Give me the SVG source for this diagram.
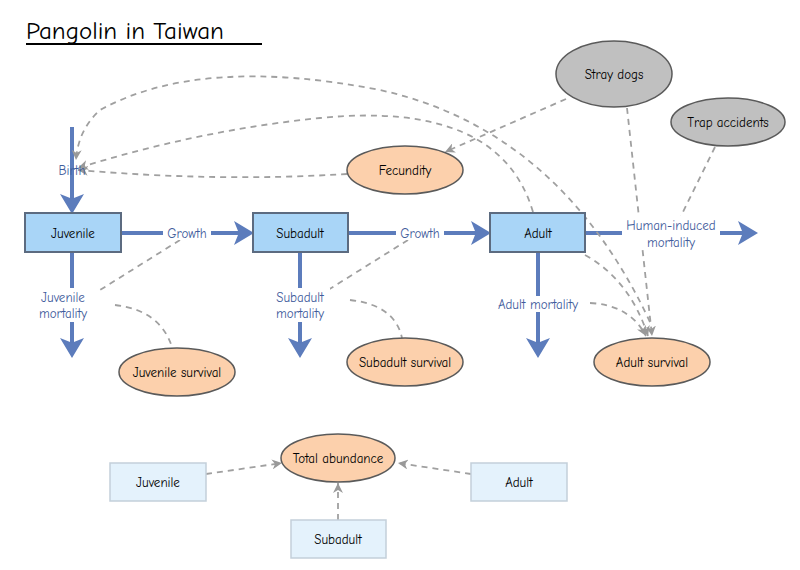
<svg xmlns="http://www.w3.org/2000/svg" width="800" height="570" viewBox="0 0 800 570">
<style>
text{font-family:"Comic Neue","Liberation Sans",sans-serif;font-size:13px;text-anchor:middle;dominant-baseline:central}
.stock{fill:#a9d5f7;stroke:#5c6b80;stroke-width:2}
.ghost{fill:#e4f2fc;stroke:#c3cfda;stroke-width:1.5}
.aux{fill:#fcd0ac;stroke:#5a5a5a;stroke-width:1.5}
.ext{fill:#c0c0c0;stroke:#5a5a5a;stroke-width:1.5}
.flow{stroke:#5c7cbc;stroke-width:4;fill:none;marker-end:url(#fa)}
.flowN{stroke:#5c7cbc;stroke-width:4;fill:none}
.link{stroke:#a0a0a0;stroke-width:1.8;stroke-dasharray:6 5;fill:none}
.la{marker-end:url(#la)}
.fl{fill:#3f5c9c;font-size:13px}
</style>
<defs>
<marker id="fa" markerWidth="6" markerHeight="6" refX="4" refY="3" orient="auto" markerUnits="strokeWidth"><path d="M0,0 L5,3 L0,6 L1.2,3 Z" fill="#5c7cbc"/></marker>
<marker id="la" markerWidth="12" markerHeight="10" refX="10" refY="5" orient="auto" markerUnits="userSpaceOnUse"><path d="M0,0 L10,5 L0,10 L3,5 Z" fill="#999"/></marker>
</defs>
<text x="26" y="30" style="font-size:25px;text-anchor:start;fill:#000">Pangolin in Taiwan</text>
<line x1="26" y1="44" x2="262" y2="44" stroke="#000" stroke-width="2"/>
<g id="connectors">
<path class="flow" d="M72,127 V210"/>
<path class="flow" d="M121,233 H250"/>
<path class="flow" d="M348,233 H487"/>
<path class="flow" d="M585,233 H754"/>
<path class="flow" d="M72,252 V354"/>
<path class="flow" d="M300,252 V354"/>
<path class="flow" d="M538,252 V354"/>
<path class="link la" d="M347,174 Q220,182 78,170"/>
<path class="link la" d="M533,212 Q500,100 320,118 Q200,130 78,168"/>
<path class="link la" d="M650,322 Q560,130 380,90 Q200,55 100,110 Q78,130 76,160"/>
<path class="link la" d="M566,99 L445,152"/>
<path class="link la" d="M627,108 L652,336"/>
<path class="link" d="M715,147 L680,218"/>
<path class="link la" d="M585,255 Q630,280 648,336"/>
<path class="link la" d="M590,303 Q630,305 646,336"/>
<path class="link" d="M180,240 L100,290"/>
<path class="link" d="M408,240 L328,290"/>
<path class="link" d="M115,305 Q160,310 172,347"/>
<path class="link" d="M350,300 Q395,305 402,338"/>
<path class="link la" d="M206,474 L282,463"/>
<path class="link la" d="M471,474 L398,463"/>
<path class="link la" d="M338,520 L338,483"/>
</g>
<g id="flow-labels">
<rect x="56" y="162" width="32" height="16" fill="#fff" opacity="0"/>
<text class="fl" x="72" y="170">Birth</text>
<rect x="163" y="226" width="48" height="14" fill="#fff"/>
<text class="fl" x="187" y="233">Growth</text>
<rect x="396" y="226" width="48" height="14" fill="#fff"/>
<text class="fl" x="420" y="233">Growth</text>
<rect x="622" y="216" width="98" height="34" fill="#fff"/>
<text class="fl" x="671" y="225">Human-induced</text>
<text class="fl" x="671" y="242">mortality</text>
<rect x="34" y="288" width="60" height="34" fill="#fff"/>
<text class="fl" x="63" y="297">Juvenile</text>
<text class="fl" x="63" y="313">mortality</text>
<rect x="270" y="288" width="60" height="34" fill="#fff"/>
<text class="fl" x="300" y="297">Subadult</text>
<text class="fl" x="300" y="313">mortality</text>
<rect x="490" y="296" width="96" height="16" fill="#fff"/>
<text class="fl" x="538" y="304">Adult mortality</text>
</g>
<g id="juvenile"><rect class="stock" x="25" y="213" width="96" height="39"/><text x="73" y="233">Juvenile</text></g>
<g id="subadult"><rect class="stock" x="253" y="213" width="95" height="39"/><text x="300" y="233">Subadult</text></g>
<g id="adult"><rect class="stock" x="490" y="213" width="95" height="39"/><text x="538" y="233">Adult</text></g>
<g id="fecundity"><ellipse class="aux" cx="405" cy="170" rx="58" ry="24"/><text x="405" y="170">Fecundity</text></g>
<g id="stray-dogs"><ellipse class="ext" cx="614" cy="74" rx="58" ry="33"/><text x="614" y="74">Stray dogs</text></g>
<g id="trap-accidents"><ellipse class="ext" cx="728" cy="122" rx="57" ry="24"/><text x="728" y="122">Trap accidents</text></g>
<g id="juvenile-survival"><ellipse class="aux" cx="177" cy="372" rx="58" ry="24"/><text x="177" y="372">Juvenile survival</text></g>
<g id="subadult-survival"><ellipse class="aux" cx="405" cy="362" rx="58" ry="24"/><text x="405" y="362">Subadult survival</text></g>
<g id="adult-survival"><ellipse class="aux" cx="652" cy="362" rx="58" ry="24"/><text x="652" y="362">Adult survival</text></g>
<g id="total-abundance"><ellipse class="aux" cx="338" cy="458" rx="57" ry="24"/><text x="338" y="458">Total abundance</text></g>
<g id="juvenile-ghost"><rect class="ghost" x="110" y="463" width="96" height="38"/><text x="158" y="482">Juvenile</text></g>
<g id="subadult-ghost"><rect class="ghost" x="291" y="520" width="95" height="38"/><text x="338" y="539">Subadult</text></g>
<g id="adult-ghost"><rect class="ghost" x="471" y="463" width="96" height="38"/><text x="519" y="482">Adult</text></g>
</svg>
